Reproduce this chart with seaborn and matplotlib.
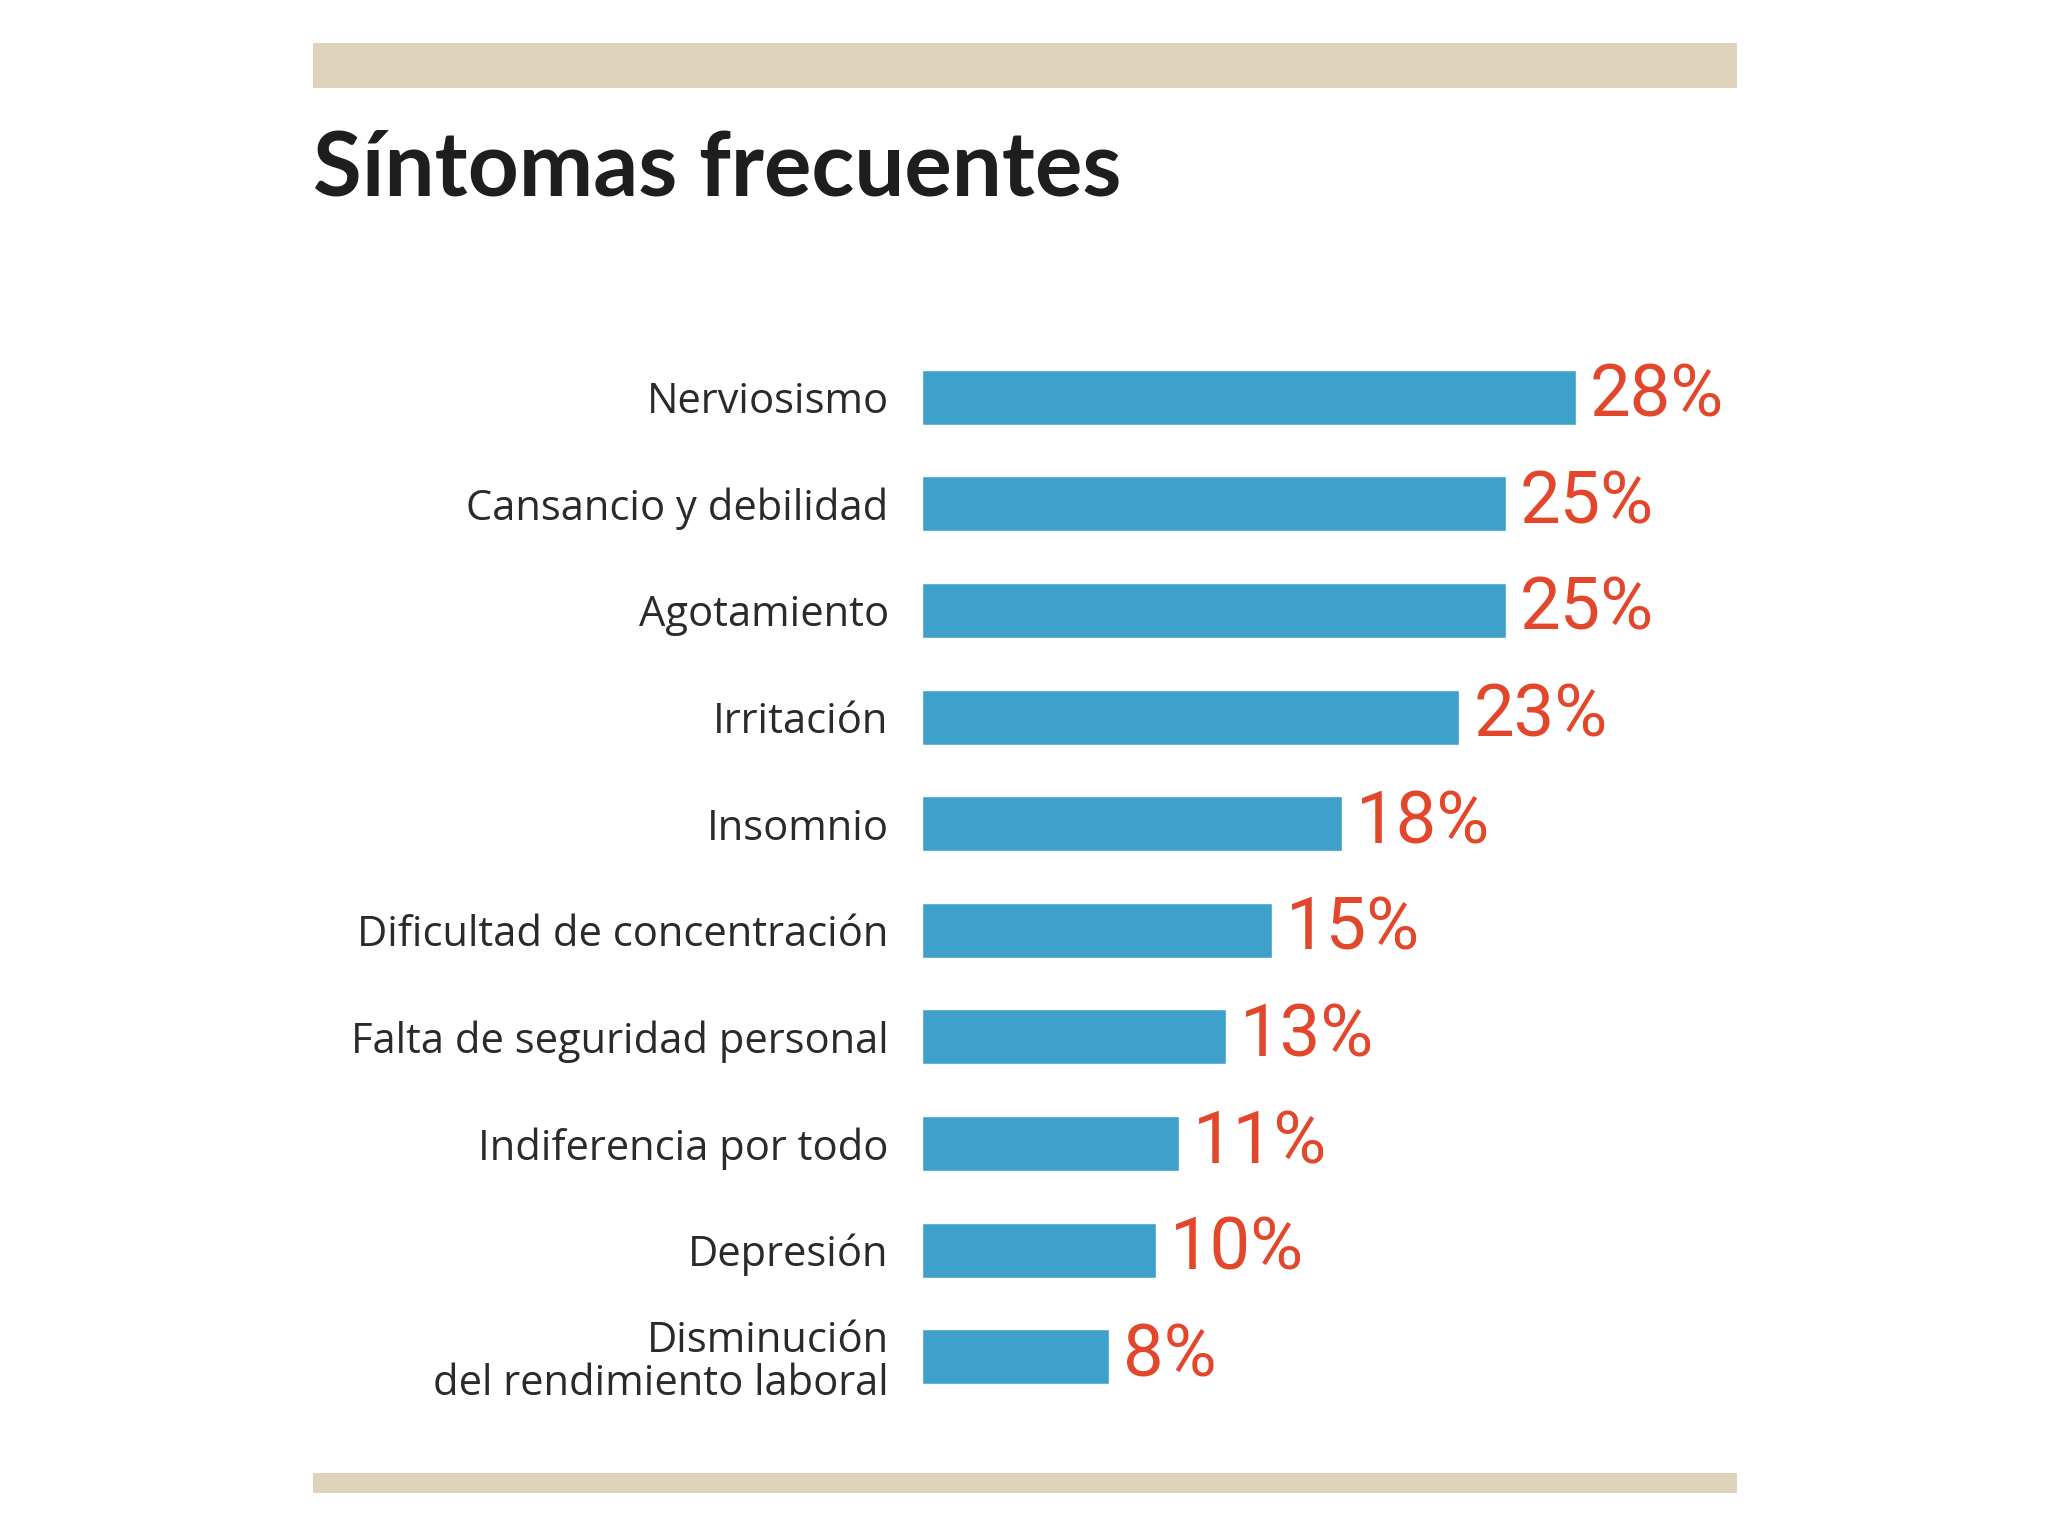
import matplotlib
matplotlib.use("Agg")
import matplotlib.pyplot as plt
import seaborn as sns
import pandas as pd
from matplotlib.patches import Rectangle

categories = [
    "Nerviosismo",
    "Cansancio y debilidad",
    "Agotamiento",
    "Irritación",
    "Insomnio",
    "Dificultad de concentración",
    "Falta de seguridad personal",
    "Indiferencia por todo",
    "Depresión",
    "Disminución\ndel rendimiento laboral",
]
values = [28, 25, 25, 23, 18, 15, 13, 11, 10, 8]
title = "Síntomas frecuentes"

BAR = "#3DA1CC"
RED = "#E2472C"
BAND = "#DDD4BB"
TXT = "#2A2A2A"

sns.set_theme(style="white")
plt.rcParams["font.family"] = ["Lato", "DejaVu Sans"]

W, H = 2048, 1536
fig = plt.figure(figsize=(W / 100, H / 100), dpi=100)
fig.patch.set_facecolor("white")

# axes placement (pixel geometry)
ax_left, ax_right = 922, 1737
ax_top, ax_bot = 344, 1410
ax = fig.add_axes([ax_left / W, 1 - ax_bot / H, (ax_right - ax_left) / W, (ax_bot - ax_top) / H])
ax.set_facecolor("none")

df = pd.DataFrame({"cat": categories, "val": values})
sns.barplot(data=df, x="val", y="cat", orient="h", color=BAR, width=0.515,
            saturation=1, ax=ax)
ax.set_xlim(0, (ax_right - ax_left) / 23.36)

for c in ax.containers:
    ax.bar_label(c, labels=[f"{v}%" for v in values], padding=10,
                 color=RED, fontsize=52, family=["Roboto", "DejaVu Sans"])

ax.set_xlabel("")
ax.set_ylabel("")
ax.set_xticks([])
ax.tick_params(axis="y", length=0, pad=24)
for lab in ax.get_yticklabels():
    lab.set_fontsize(30)
    lab.set_family(["Open Sans", "DejaVu Sans"])
    lab.set_fontweight("normal")
    lab.set_color(TXT)
    lab.set_multialignment("right")
    lab.set_linespacing(1.05)
for s in ax.spines.values():
    s.set_visible(False)

# decorative bands
fig.add_artist(Rectangle((313 / W, 1 - 88 / H), (1737 - 313) / W, 45 / H,
                         transform=fig.transFigure, color=BAND, lw=0))
fig.add_artist(Rectangle((313 / W, 1 - 1493 / H), (1737 - 313) / W, 20 / H,
                         transform=fig.transFigure, color=BAND, lw=0))

fig.text(313 / W, 1 - 196 / H, title, fontsize=64, fontweight="bold",
         color="#1E1E1E", ha="left", va="baseline")

fig.savefig("out.png", dpi=100, facecolor="white")
